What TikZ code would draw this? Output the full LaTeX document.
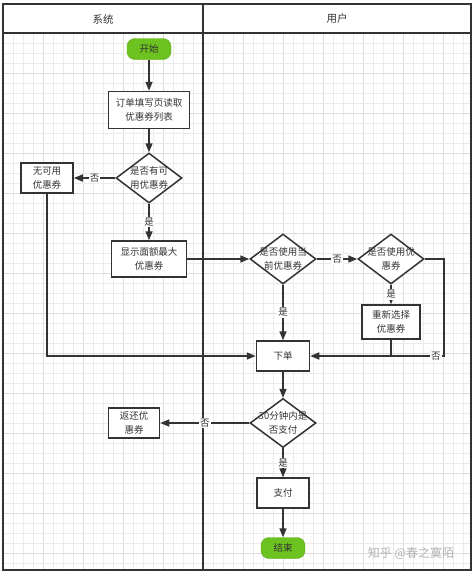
\documentclass[tikz,border=0pt]{standalone}
\usepackage{fontspec}
\setmainfont{Noto Sans CJK SC}
\usetikzlibrary{shapes.geometric,arrows.meta}
\definecolor{linec}{HTML}{333333}
\definecolor{gridminor}{HTML}{EBEBEB}
\definecolor{gridmajor}{HTML}{DCDCDC}
\definecolor{greenf}{HTML}{6CC21E}
\definecolor{greend}{HTML}{5AA818}
\tikzset{
  every node/.style={font=\fontsize{9.5}{14.5}\selectfont, text=linec},
  proc/.style={draw=linec, line width=1.5pt, fill=white, rectangle, inner sep=0pt, align=center},
  dec/.style={draw=linec, line width=1.5pt, fill=white, diamond, inner sep=0pt, minimum width=66pt, minimum height=50pt},
  dtext/.style={align=center, inner sep=0pt},
  term/.style={draw=greend, fill=greenf, rounded corners=8pt, minimum width=44pt, minimum height=21pt, inner sep=0pt},
  conn/.style={draw=linec, line width=1.5pt, -{Triangle[length=9pt,width=7pt]}},
  plain/.style={draw=linec, line width=1.5pt},
  lab/.style={fill=white, inner sep=1pt},
}
\begin{document}
\begin{tikzpicture}[x=1pt,y=-1pt]
\useasboundingbox (0,0) rectangle (474,574);
\fill[white] (0,0) rectangle (474,574);
% grid
\foreach \i in {0,...,46} {
  \pgfmathsetmacro{\xx}{3+10*\i}
  \pgfmathtruncatemacro{\m}{mod(\i,4)}
  \ifnum\m=0 \draw[gridmajor, line width=0.6pt] (\xx,33) -- (\xx,570);
  \else \draw[gridminor, line width=0.6pt] (\xx,33) -- (\xx,570); \fi
}
\foreach \j in {0,...,53} {
  \pgfmathsetmacro{\yy}{33+10*\j}
  \pgfmathtruncatemacro{\m}{mod(\j,4)}
  \ifnum\m=0 \draw[gridmajor, line width=0.6pt] (3,\yy) -- (471,\yy);
  \else \draw[gridminor, line width=0.6pt] (3,\yy) -- (471,\yy); \fi
}
% swimlanes
\fill[white] (3,4) rectangle (471,33);
\draw[linec, line width=1.5pt] (3,4) rectangle (471,570);
\draw[linec, line width=1.5pt] (3,33) -- (471,33);
\draw[linec, line width=1.8pt] (203,4) -- (203,570);
\node (lane1) at (103,19) {\fontsize{10.5}{12}\selectfont 系统};
\node (lane2) at (337,19) {\fontsize{10.5}{12}\selectfont 用户};

% nodes
\node[term] (start) at (149,49) {开始};
\node[proc, minimum width=81pt, minimum height=37pt] (read) at (149,110) {订单填写页读取\\优惠券列表};
\node[dec] (d1) at (149,178) {};
\node[dtext] (d1t) at (d1) {是否有可\\用优惠券};
\node[proc, minimum width=52pt, minimum height=30pt] (none) at (47,178) {无可用\\优惠券};
\node[proc, minimum width=75pt, minimum height=36pt] (showmax) at (149,259) {显示面额最大\\优惠券};
\node[dec] (d2) at (283,259) {};
\node[dtext] (d2t) at (d2) {是否使用当\\前优惠券};
\node[dec] (d3) at (391,259) {};
\node[dtext] (d3t) at (d3) {是否使用优\\惠券};
\node[proc, minimum width=58pt, minimum height=34pt] (resel) at (391,322) {重新选择\\优惠券};
\node[proc, minimum width=53pt, minimum height=30pt] (order) at (283,356) {下单};
\node[dec, minimum height=49pt] (d4) at (283,423) {};
\node[dtext] (d4t) at (d4) {30分钟内是\\否支付};
\node[proc, minimum width=51pt, minimum height=30pt] (ret) at (134,423) {返还优\\惠券};
\node[proc, minimum width=52pt, minimum height=30pt] (pay) at (283,493) {支付};
\node[term] (end) at (283,548) {结束};
\coordinate (c1) at (444,259);
\coordinate (c2) at (444,356);
\coordinate (c3) at (391,356);
\coordinate (c4) at (47,356);

% connectors
\draw[conn] (start) -- (read);
\draw[conn] (read) -- (d1);
\draw[conn] (d1.west) -- node[lab] (l1) {否} (none.east);
\draw[conn] (d1.south) -- node[lab] (l2) {是} (showmax.north);
\draw[conn] (showmax.east) -- (d2.west);
\draw[conn] (d2.east) -- node[lab] (l3) {否} (d3.west);
\draw[conn] (d2.south) -- node[lab] (l4) {是} (order.north);
\draw[conn] (d3.south) -- node[lab] (l5) {是} (resel.north);
\draw[plain] (resel.south) -- (c3);
\draw[conn] (d3.east) -- (c1) -- (c2) -- node[lab, pos=0.06] (l6) {否} (order.east);
\draw[conn] (none.south) -- (c4) -- (order.west);
\draw[conn] (order) -- (d4);
\draw[conn] (d4.west) -- node[lab] (l7) {否} (ret.east);
\draw[conn] (d4.south) -- node[lab] (l8) {是} (pay.north);
\draw[conn] (pay) -- (end);

% watermark
\node[text=black!30] (wm) at (411,553) {\fontsize{12}{14}\selectfont 知乎 @春之寞陌};
\end{tikzpicture}
\end{document}
